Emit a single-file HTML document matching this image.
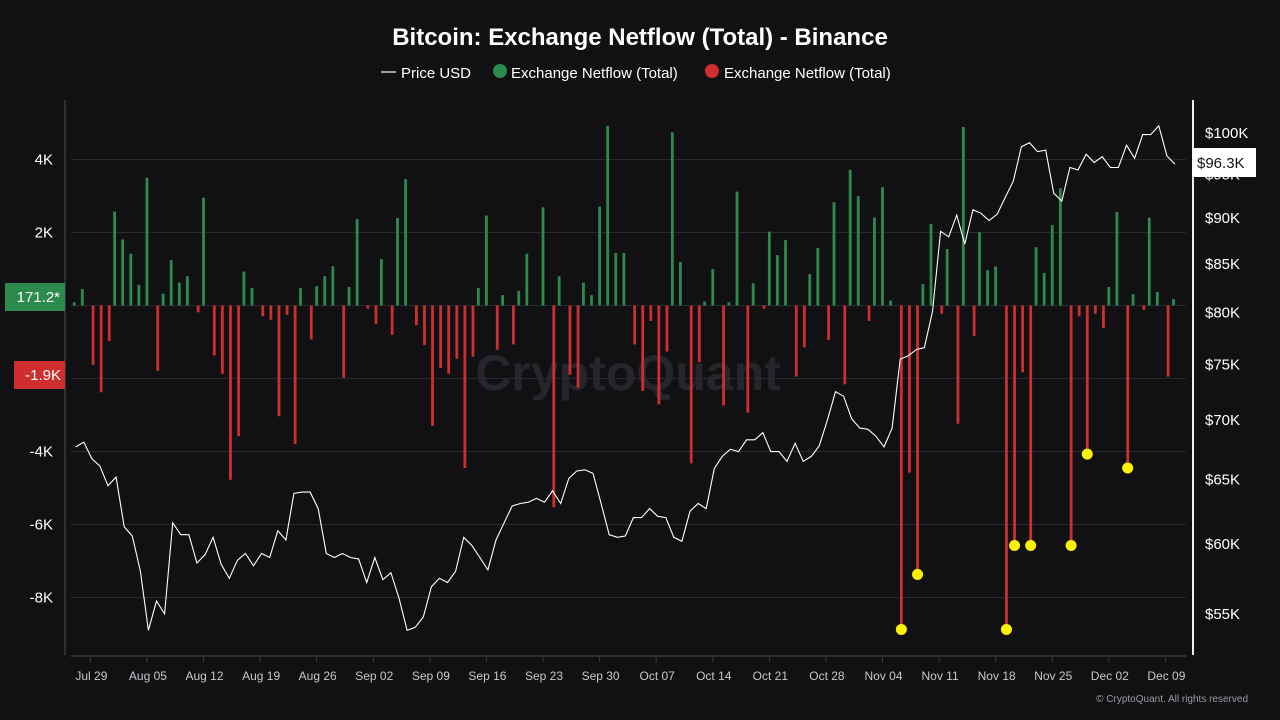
<!DOCTYPE html>
<html><head><meta charset="utf-8"><style>
html,body{margin:0;padding:0;background:#111113;}
svg{display:block;font-family:"Liberation Sans",sans-serif;}
</style></head><body>
<svg id="chart" width="1280" height="720" viewBox="0 0 1280 720">
<rect width="1280" height="720" fill="#111113"/>
<text x="640" y="45" text-anchor="middle" fill="#fff" font-size="24" font-weight="bold">Bitcoin: Exchange Netflow (Total) - Binance</text>
<g>
 <g><line x1="381" y1="72" x2="396" y2="72" stroke="#fff" stroke-width="1.2"/><text x="401" y="78" fill="#fff" font-size="15">Price USD</text></g>
 <g><circle cx="500" cy="71" r="7" fill="#2b8a4c"/><text x="511" y="78" fill="#fff" font-size="15">Exchange Netflow (Total)</text></g>
 <g><circle cx="712" cy="71" r="7" fill="#cf2e2e"/><text x="724" y="78" fill="#fff" font-size="15">Exchange Netflow (Total)</text></g>
</g>
<text x="628" y="390" text-anchor="middle" fill="#26262a" font-size="50" font-weight="bold">CryptoQuant</text>
<g id="grid"></g><g id="bars"></g><g id="price"></g><g id="axes"></g>
<text x="1248" y="702" text-anchor="end" fill="#9a9aa0" font-size="10">© CryptoQuant. All rights reserved</text>
</svg>
<script>
const dates = ["Jul 29","Aug 05","Aug 12","Aug 19","Aug 26","Sep 02","Sep 09","Sep 16","Sep 23","Sep 30","Oct 07","Oct 14","Oct 21","Oct 28","Nov 04","Nov 11","Nov 18","Nov 25","Dec 02","Dec 09"];
const netflow = [88,450,-1624,-2378,-969,2573,1810,1419,568,3503,-1791,323,1243,626,802,-186,2955,-1370,-1869,-4775,-3581,930,479,
-294,-391,-3033,-254,-3797,479,-930,528,802,1076,-1977,509,2368,-88,-509,1272,-802,2397,3464,-538,-1086,-3298,-1712,-1869,
-1458,-4452,-1399,479,2466,-1213,284,-1067,401,1419,0,2691,-5529,802,-1898,-2251,626,284,2710,4922,1438,1438,
-1067,-2339,-421,-2710,-1262,4746,1194,-4325,-1556,108,998,-2740,88,3121,-2936,607,-88,2025,1380,1791,-1947,-1145,861,1575,-949,
2828,-2162,3718,2994,-421,2407,3239,137,-8875,-4579,-7368,587,2231,-225,1546,-3239,4893,-832,2006,969,1067,-8875,-6576,
-1830,-6576,1595,890,2202,3210,-6576,-294,-4071,-225,-616,509,2564,-4452,313,-117,2407,372,-1947,176];
const price = [67.7,68.1,66.7,66.1,64.5,65.2,61.3,60.6,58.0,53.9,55.9,55.0,61.6,60.7,60.7,58.6,59.2,60.5,58.5,57.5,58.8,59.3,58.4,
59.3,59.0,61.0,60.3,63.9,64.0,64.0,62.7,59.3,59.0,59.3,59.0,58.9,57.2,59.0,57.4,57.9,56.1,53.9,54.1,54.8,56.9,57.5,57.2,
58.0,60.5,59.9,59.0,58.1,60.3,61.6,62.9,63.1,63.2,63.5,63.2,64.1,63.1,65.1,65.7,65.8,65.5,63.1,60.7,60.5,60.6,
62.0,62.0,62.7,62.1,62.0,60.5,60.2,62.5,63.1,62.7,65.9,66.9,67.5,67.3,68.3,68.3,68.9,67.3,67.3,66.5,68.0,66.5,66.9,67.8,70.0,
72.5,72.1,70.1,69.3,69.2,68.6,67.7,69.3,75.5,75.8,76.4,76.6,80.1,88.5,87.9,90.3,87.1,90.9,90.5,89.7,90.4,92.3,94.2,
98.3,98.8,97.7,97.9,92.8,91.9,95.8,95.5,97.4,96.4,97.1,95.8,95.8,98.5,96.9,99.8,99.8,100.9,97.2,96.2];
const highlighted = [102,104,115,116,118,123,125,130];
const leftTicks = [4000,2000,0,-2000,-4000,-6000,-8000];
const leftTickLabels = ["4K","2K","","","-4K","-6K","-8K"];
const rightTicks = [100,95,90,85,80,75,70,65,60,55];

const NS="http://www.w3.org/2000/svg";
function mk(tag,attrs,parent){const e=document.createElementNS(NS,tag);for(const k in attrs)e.setAttribute(k,attrs[k]);parent.appendChild(e);return e;}
const xDay = i => 74.2 + 8.083*i;
const yFlow = v => 305.5 - v*0.0365;
const yPrice = p => 133 + 804.6*Math.log(100/p);
const grid=document.getElementById('grid'), bars=document.getElementById('bars'), pr=document.getElementById('price'), axes=document.getElementById('axes');

leftTicks.forEach((v,k)=>{
  const g=mk('line',{x1:71,x2:1186,y1:yFlow(v),y2:yFlow(v),stroke:'#2a2a2e','stroke-width':1},grid);
  
  
  if(leftTickLabels[k]){
    const t=mk('text',{x:53,y:yFlow(v)+5,'text-anchor':'end',fill:'#fff','font-size':15},axes);
    t.textContent=leftTickLabels[k];
    
    
  }
});
netflow.forEach((v,i)=>{
  if(v===0) return;
  const pos=v>0;
  const x=pos?xDay(i):xDay(i)+2.7;
  const y0=yFlow(0), y1=yFlow(v);
  const r=mk('rect',{x:x-1.4,y:Math.min(y0,y1),width:2.8,height:Math.max(1,Math.abs(y1-y0)),fill:pos?'#2b8a4c':'#cf2e2e'},bars);
  
  
  if(highlighted.includes(i)){
    const c=mk('circle',{cx:x,cy:y1,r:5.5,fill:'#fff200'},bars);
    
    
  }
});
const pts=price.map((p,i)=>(75.7+8.083*i).toFixed(1)+','+yPrice(p).toFixed(1)).join(' ');
const pl=mk('polyline',{points:pts,fill:'none',stroke:'#fff','stroke-width':1.1},pr);



const la=mk('line',{x1:65,x2:65,y1:100,y2:655,stroke:'#3a3a40','stroke-width':1.5},axes);


const ra=mk('line',{x1:1193,x2:1193,y1:100,y2:655,stroke:'#eee','stroke-width':2},axes);


const ba=mk('line',{x1:71,x2:1186,y1:656,y2:656,stroke:'#3a3a40','stroke-width':1.5},axes);


rightTicks.forEach(p=>{
  const t=mk('text',{x:1205,y:yPrice(p)+5,fill:'#fff','font-size':15},axes);
  t.textContent='$'+p+'K';
  
  
});
dates.forEach((d,k)=>{
  const x=xDay(2+7*k);
  const tk=mk('line',{x1:x,x2:x,y1:656,y2:662,stroke:'#3a3a40','stroke-width':1},axes);
  
  
  const t=mk('text',{x:x+1,y:680,'text-anchor':'middle',fill:'#c8c8cc','font-size':12},axes);
  t.textContent=d;
  
  
});
// badges
const gb=mk('g',{},axes);


mk('rect',{x:5,y:283,width:60,height:28,fill:'#2b8a4c'},gb);
const gt=mk('text',{x:60,y:302,'text-anchor':'end',fill:'#fff','font-size':15},gb); gt.textContent='171.2*';
const rb=mk('g',{},axes);


mk('rect',{x:14,y:361,width:51,height:28,fill:'#cf2e2e'},rb);
const rt=mk('text',{x:61,y:380,'text-anchor':'end',fill:'#fff','font-size':15},rb); rt.textContent='-1.9K';
const pb=mk('g',{},axes);


mk('rect',{x:1192,y:148,width:64,height:29,fill:'#fff'},pb);
const pt=mk('text',{x:1197,y:168,fill:'#111','font-size':15},pb); pt.textContent='$96.3K';
</script>
</body></html>
